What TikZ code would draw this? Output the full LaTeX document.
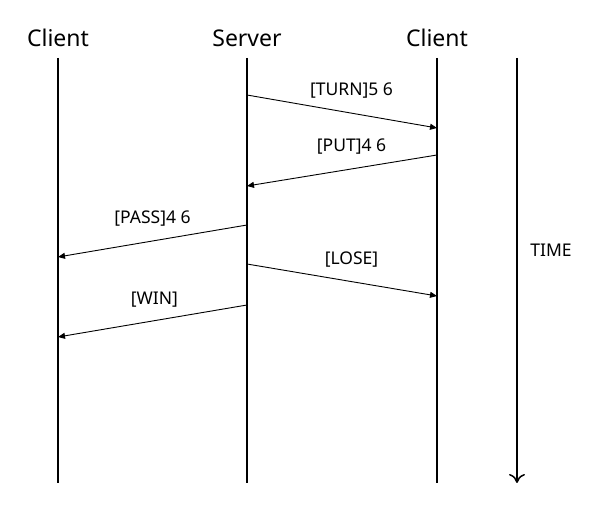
\documentclass[tikz,border=0pt]{standalone}
\usepackage{fontspec}
\setmainfont{Noto Sans}
\usetikzlibrary{arrows.meta}

\begin{document}
\begin{tikzpicture}[x=1pt,y=-1pt,>={Triangle[length=7pt,width=6pt]},
        lifeline/.style={line width=2pt},
        msg/.style={->,line width=0.9pt},
        head/.style={font=\fontsize{23}{26}\selectfont},
        lbl/.style={font=\fontsize{17.5}{20}\selectfont,inner sep=1pt}]

  \useasboundingbox (0,0) rectangle (592,510);

  % heads of the lifelines
  \node[head] (c1) at (58,38) {Client};
  \node[head] (sv) at (247,38) {Server};
  \node[head] (c2) at (437,38) {Client};

  \coordinate (c1t) at (58,58);   \coordinate (c1b) at (58,483);
  \coordinate (svt) at (247,58);  \coordinate (svb) at (247,483);
  \coordinate (c2t) at (437,58);  \coordinate (c2b) at (437,483);
  \coordinate (tt) at (517,58);   \coordinate (tb) at (517,483);

  \draw[lifeline] (c1t) -- (c1b);
  \draw[lifeline] (svt) -- (svb);
  \draw[lifeline] (c2t) -- (c2b);
  \draw[line width=2pt,-{To[length=9pt,width=16pt,line width=1.5pt]}] (tt) -- (tb);
  \node[lbl] (time) at (551,250) {TIME};

  % message ends
  \coordinate (m1a) at (247,95);   \coordinate (m1b) at (437,128);
  \coordinate (m2a) at (437,155);  \coordinate (m2b) at (247,186);
  \coordinate (m3a) at (247,225);  \coordinate (m3b) at (58,257);
  \coordinate (m4a) at (247,264);  \coordinate (m4b) at (437,296);
  \coordinate (m5a) at (247,305);  \coordinate (m5b) at (58,337);

  \path (m1a) edge[msg] node[lbl,pos=0.55,above=13pt] {[TURN]5 6} (m1b)
        (m2a) edge[msg] node[lbl,pos=0.45,above=13pt] {[PUT]4 6} (m2b)
        (m3a) edge[msg] node[lbl,pos=0.5,above=13pt] {[PASS]4 6} (m3b)
        (m4a) edge[msg] node[lbl,pos=0.55,above=13pt] {[LOSE]} (m4b)
        (m5a) edge[msg] node[lbl,pos=0.49,above=12pt] {[WIN]} (m5b);

\end{tikzpicture}
\end{document}
